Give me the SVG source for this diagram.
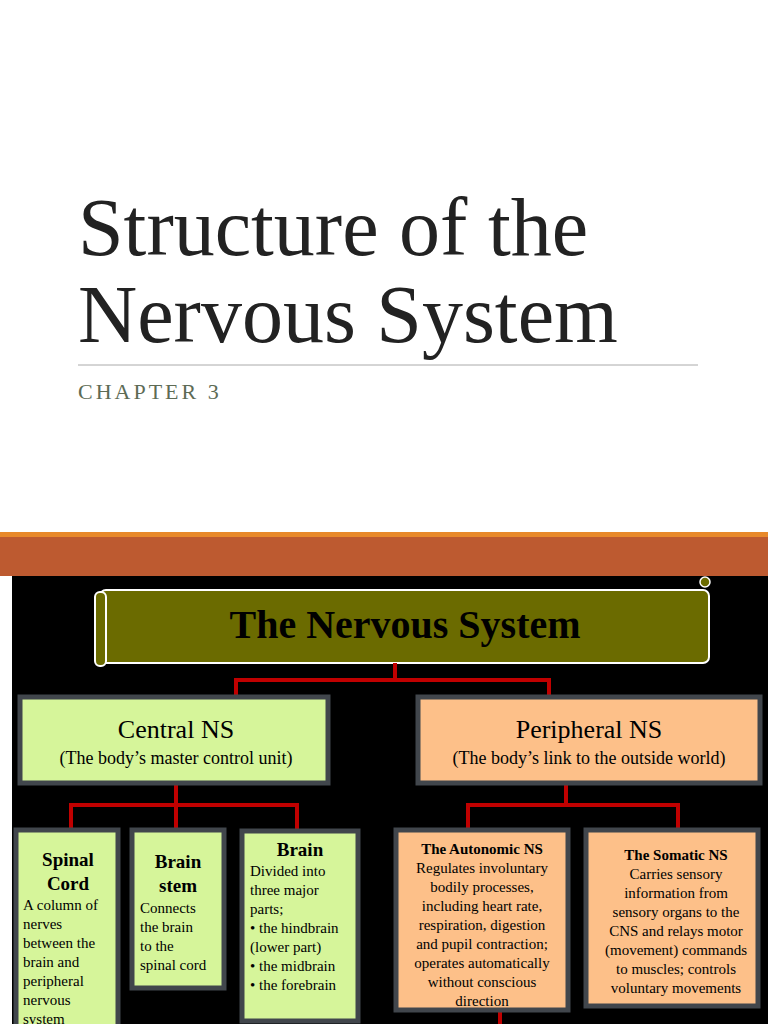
<svg xmlns="http://www.w3.org/2000/svg" width="768" height="1024" viewBox="0 0 768 1024">
<style>
.t{font-family:"Liberation Serif",serif;fill:#000}
.c{text-anchor:middle}
.g{fill:#d6f59a;stroke:#41464c;stroke-width:5}
.o{fill:#fdc089;stroke:#41464c;stroke-width:5}
.b{font-weight:bold}
.s{font-size:15px}
</style>
<rect width="768" height="1024" fill="#fff"/>
<text x="78" y="255" font-family="Liberation Serif,serif" font-size="82" fill="#222">Structure of the</text>
<text x="78" y="342" font-family="Liberation Serif,serif" font-size="82" fill="#222">Nervous System</text>
<line x1="78" y1="365" x2="698" y2="365" stroke="#aaa" stroke-width="1"/>
<text x="78" y="399" font-family="Liberation Serif,serif" font-size="22" letter-spacing="3" fill="#5d6b55">CHAPTER 3</text>
<rect x="0" y="532" width="768" height="5" fill="#e8892a"/>
<rect x="0" y="537" width="768" height="39" fill="#bd5a30"/>
<rect x="12" y="576" width="756" height="448" fill="#000"/>
<g id="title">
<rect x="100" y="590" width="609" height="73" rx="6" fill="#6b6b00" stroke="#fff" stroke-width="2"/>
<rect x="95" y="592" width="11" height="74" rx="5" fill="#6b6b00" stroke="#fff" stroke-width="2"/>
<circle cx="705" cy="582" r="5" fill="#6b6b00" stroke="#fff" stroke-width="1.5"/>
<text x="405" y="638" class="t c b" font-size="40">The Nervous System</text>
</g>
<g id="connectors" stroke="#c00000" stroke-width="4" fill="none">
<path d="M395 663V680M236 697V680H549V697"/>
<path d="M176 785V805M71 830V805H297V830M176 805V830"/>
<path d="M566 785V805M468 830V805H678V830"/>
<path d="M500 1012V1024"/>
</g>
<g id="cns"><rect x="20" y="697" width="308" height="86" class="g"/>
<text x="176" y="738" class="t c" font-size="26">Central NS</text>
<text x="176" y="764" class="t c" font-size="18">(The body’s master control unit)</text></g>
<g id="pns"><rect x="418" y="697" width="342" height="86" class="o"/>
<text x="589" y="738" class="t c" font-size="26">Peripheral NS</text>
<text x="589" y="764" class="t c" font-size="18">(The body’s link to the outside world)</text></g>
<g id="spinal"><rect x="16" y="830" width="102" height="200" class="g"/>
<text x="68" y="866" class="t c b" font-size="19">Spinal</text>
<text x="68" y="890" class="t c b" font-size="19">Cord</text>
<text class="t s" x="23" y="910">A column of<tspan x="23" dy="19">nerves</tspan><tspan x="23" dy="19">between the</tspan><tspan x="23" dy="19">brain and</tspan><tspan x="23" dy="19">peripheral</tspan><tspan x="23" dy="19">nervous</tspan><tspan x="23" dy="19">system</tspan></text></g>
<g id="stem"><rect x="132" y="830" width="92" height="158" class="g"/>
<text x="178" y="868" class="t c b" font-size="19">Brain</text>
<text x="178" y="892" class="t c b" font-size="19">stem</text>
<text class="t s" x="140" y="913">Connects<tspan x="140" dy="19">the brain</tspan><tspan x="140" dy="19">to the</tspan><tspan x="140" dy="19">spinal cord</tspan></text></g>
<g id="brain"><rect x="242" y="831" width="116" height="190" class="g"/>
<text x="300" y="856" class="t c b" font-size="19">Brain</text>
<text class="t s" x="250" y="876">Divided into<tspan x="250" dy="19">three major</tspan><tspan x="250" dy="19">parts;</tspan><tspan x="250" dy="19">• the hindbrain</tspan><tspan x="250" dy="19">(lower part)</tspan><tspan x="250" dy="19">• the midbrain</tspan><tspan x="250" dy="19">• the forebrain</tspan></text></g>
<g id="auto"><rect x="396" y="830" width="172" height="180" class="o"/>
<text class="t c s" x="482" y="854"><tspan class="b">The Autonomic NS</tspan><tspan x="482" dy="19">Regulates involuntary</tspan><tspan x="482" dy="19">bodily processes,</tspan><tspan x="482" dy="19">including heart rate,</tspan><tspan x="482" dy="19">respiration, digestion</tspan><tspan x="482" dy="19">and  pupil contraction;</tspan><tspan x="482" dy="19">operates automatically</tspan><tspan x="482" dy="19">without conscious</tspan><tspan x="482" dy="19">direction</tspan></text></g>
<g id="somatic"><rect x="586" y="830" width="172" height="176" class="o"/>
<text class="t c s" x="676" y="860"><tspan class="b">The Somatic NS</tspan><tspan x="676" dy="19">Carries sensory</tspan><tspan x="676" dy="19">information from</tspan><tspan x="676" dy="19">sensory organs to the</tspan><tspan x="676" dy="19">CNS and relays motor</tspan><tspan x="676" dy="19">(movement) commands</tspan><tspan x="676" dy="19">to muscles; controls</tspan><tspan x="676" dy="19">voluntary movements</tspan></text></g>
</svg>
